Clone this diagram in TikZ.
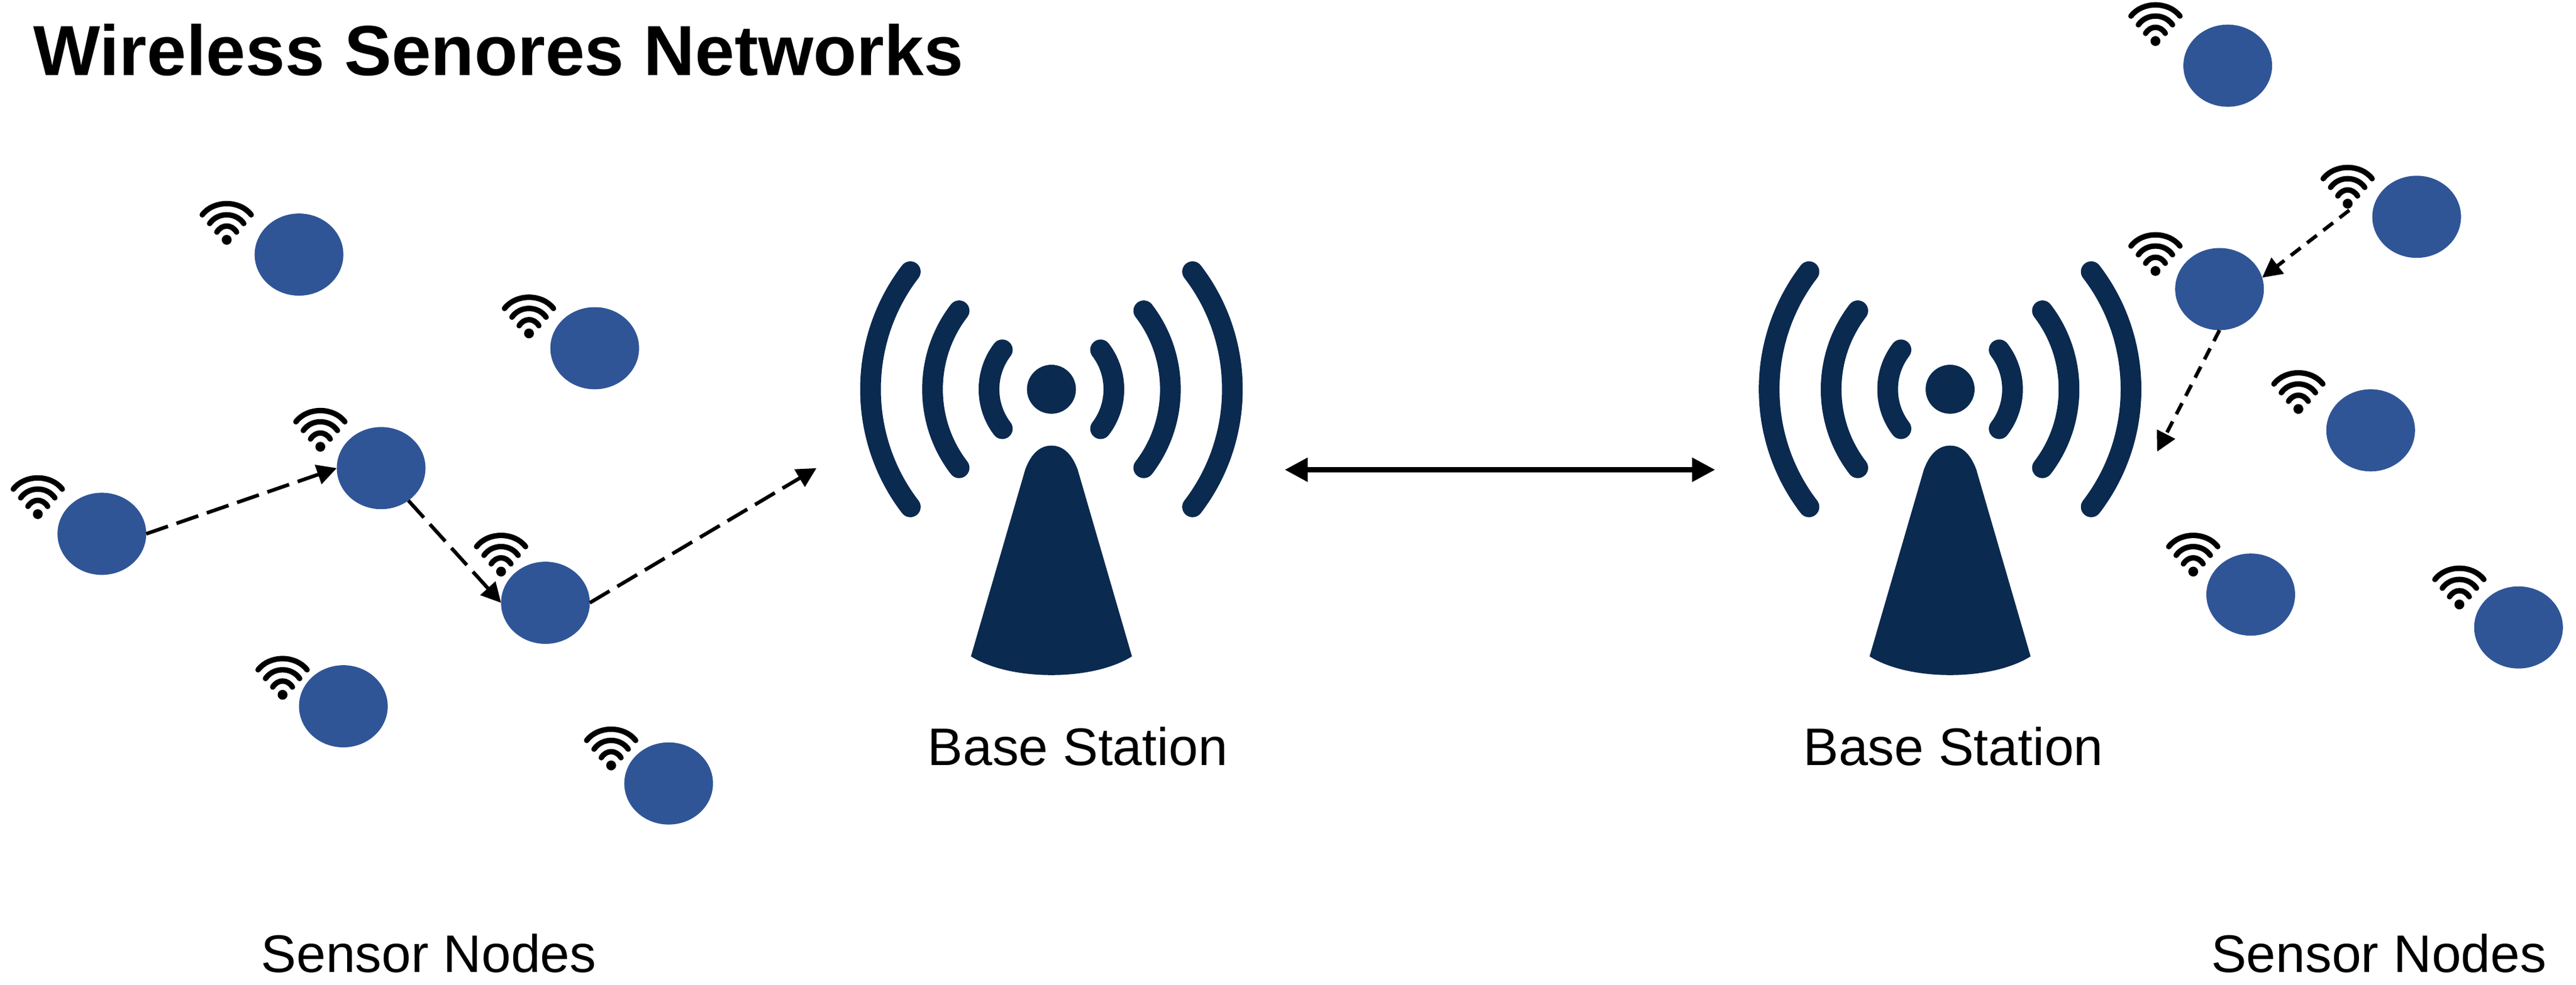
\documentclass[tikz,border=0pt]{standalone}
\usepackage{fontspec}
\setmainfont{Liberation Sans}
\usetikzlibrary{shapes.geometric,arrows.meta}
\definecolor{towerblue}{HTML}{0A2A50}
\definecolor{sensorblue}{HTML}{2F5597}
\tikzset{
  sensor/.style={ellipse,fill=sensorblue,draw=none,minimum width=54pt,minimum height=50pt,inner sep=0pt,outer sep=0pt},
  label text/.style={font=\fontsize{32.2}{38}\selectfont,anchor=base,inner sep=0pt,text=black},
  title text/.style={font=\fontsize{43.2}{50}\selectfont\bfseries,anchor=base west,inner sep=0pt,text=black},
  longdash/.style={draw=black,line width=2.2pt,dash pattern=on 14pt off 5.5pt,-{Triangle[length=12pt,width=12pt]}},
  shortdash/.style={draw=black,line width=2.2pt,dash pattern=on 7.5pt off 5pt,-{Triangle[length=12pt,width=12pt]}},
  linkarrow/.style={draw=black,line width=3.2pt,{Triangle[length=14pt,width=14pt]}-{Triangle[length=14pt,width=14pt]}},
  wave/.style={draw=towerblue,line width=12.6pt,line cap=round},
  wifiwave/.style={draw=black,line width=3.3pt,line cap=round},
  pics/tower/.style={code={
    \fill[towerblue] (0,0) circle[radius=14.9];
    \foreach \s in {-1,1}{
      \draw[wave] (\s*85.9,-71.6) .. controls (\s*118.2,-29.6) and (\s*118.2,29.6) .. (\s*85.9,71.6);
      \draw[wave] (\s*56.2,-47.8) .. controls (\s*77.8,-19.8) and (\s*77.8,19.8) .. (\s*56.2,47.8);
      \draw[wave] (\s*29.9,-24) .. controls (\s*40.7,-9.9) and (\s*40.7,9.9) .. (\s*29.9,24);
    }
    \fill[towerblue] (-49,162.6) -- (-16,49) .. controls (-12,38) and (-6,34.3) .. (0,34.3)
      .. controls (6,34.3) and (12,38) .. (16,49) -- (49,162.6)
      .. controls (25,177.8) and (-25,177.8) .. cycle;
  }},
  pics/wifi/.style={code={
    \fill[black] (0,0) circle[radius=3];
    \draw[wifiwave] (-6,-4.7) .. controls (-3,-9.6) and (3,-9.6) .. (6,-4.7);
    \draw[wifiwave] (-10.4,-9.9) .. controls (-5.5,-17) and (5.5,-17) .. (10.4,-9.9);
    \draw[wifiwave] (-14.9,-15.2) .. controls (-8,-24.3) and (8,-24.3) .. (14.9,-15.2);
  }}
}
\begin{document}
\begin{tikzpicture}[x=1pt,y=-1pt]
\path[use as bounding box] (0,0) rectangle (1568,599.67);

\node[title text] (title) at (20,46) {Wireless Senores Networks};

% base stations
\pic at (640,237) {tower};
\pic at (1187,237) {tower};
\node[label text] (bs1) at (656,466) {Base Station};
\node[label text] (bs2) at (1189,466) {Base Station};
\node[label text] (sn1) at (261,592) {Sensor Nodes};
\node[label text] (sn2) at (1448,592) {Sensor Nodes};

% left sensors
\node[sensor] (a1) at (182,155) {};
\node[sensor] (a2) at (362,212) {};
\node[sensor] (a3) at (232,285) {};
\node[sensor] (a4) at (62,325) {};
\node[sensor] (a5) at (332,367) {};
\node[sensor] (a6) at (209,430) {};
\node[sensor] (a7) at (407,477) {};
\pic at (138,146) {wifi};
\pic at (322,203) {wifi};
\pic at (195,272) {wifi};
\pic at (23,313) {wifi};
\pic at (305,348) {wifi};
\pic at (172,423) {wifi};
\pic at (372,466) {wifi};

% right sensors
\node[sensor] (b1) at (1356,40) {};
\node[sensor] (b2) at (1471,132) {};
\node[sensor] (b3) at (1351,176) {};
\node[sensor] (b4) at (1443,262) {};
\node[sensor] (b5) at (1370,362) {};
\node[sensor] (b6) at (1533,382) {};
\pic at (1312,25) {wifi};
\pic at (1429,124) {wifi};
\pic at (1312,165) {wifi};
\pic at (1399,249) {wifi};
\pic at (1335,348) {wifi};
\pic at (1497,368) {wifi};

% connector ends
\coordinate (leftout) at (497,285);
\coordinate (rightstart) at (1430,128);
\coordinate (rightout) at (1313,275);
\coordinate (linkL) at (782,286);
\coordinate (linkR) at (1044,286);

\draw[longdash] (a4.east) -- (a3.west);
\draw[longdash] (a3.-50) -- (a5.west);
\draw[longdash] (a5.east) -- (leftout);
\draw[shortdash] (rightstart) -- (b3.15);
\draw[shortdash] (b3.south) -- (rightout);
\draw[linkarrow] (linkL) -- (linkR);
\end{tikzpicture}
\end{document}
